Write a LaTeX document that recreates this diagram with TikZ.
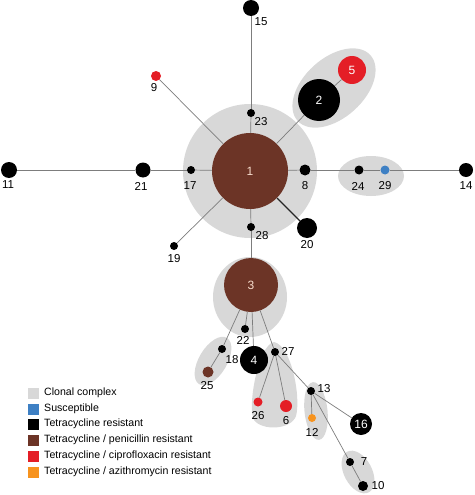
\documentclass[tikz,border=0pt]{standalone}
\usepackage{fontspec}
\setmainfont{Liberation Sans}
\usetikzlibrary{backgrounds}
\definecolor{cc}{RGB}{216,216,216}
\definecolor{brn}{RGB}{108,52,38}
\definecolor{rd}{RGB}{228,30,38}
\definecolor{bl}{RGB}{62,128,196}
\definecolor{org}{RGB}{247,147,30}
\definecolor{pk}{RGB}{246,220,205}
\definecolor{ln}{RGB}{125,125,125}
\pgfdeclarelayer{blobs}
\pgfdeclarelayer{edges}
\pgfsetlayers{blobs,edges,main}
\tikzset{
  nd/.style={circle, inner sep=0pt, minimum size=#1, fill=black, text=white, font=\fontsize{12}{12}\selectfont},
  lbl/.style={inner sep=0pt, font=\fontsize{11.5}{11.5}\selectfont},
  edge/.style={draw=ln, line width=0.7pt},
  dark/.style={draw=black!85, line width=1.1pt},
  blob/.style={fill=cc},
  key/.style={minimum size=11pt, inner sep=0pt},
  keytxt/.style={anchor=west, inner sep=0pt, font=\fontsize{10.6}{10.6}\selectfont}
}
\begin{document}
\begin{tikzpicture}[x=1pt,y=1pt]
\useasboundingbox (0,0) rectangle (474,-495);
% blobs
\begin{pgfonlayer}{blobs}
\fill[blob] (250,-171) circle (67);
\fill[blob, rotate around={42:(334,-88)}] (334,-88) ellipse (49 and 30);
\fill[blob] (371,-176) ellipse (33 and 20);
\fill[blob] (250,-297) ellipse (37 and 40);
\fill[blob, rotate around={59:(213,-361)}] (213,-361) ellipse (27 and 14);
\fill[blob] (274,-342) .. controls (292,-346) and (301,-398) .. (296,-416)
  .. controls (291,-430) and (262,-431) .. (254,-420)
  .. controls (247,-408) and (258,-345) .. (274,-342) -- cycle;
\fill[blob, rotate around={6:(316,-411)}] (316,-411) ellipse (11.5 and 29);
\fill[blob, rotate around={-62:(358,-472)}] (358,-472) ellipse (23 and 14);
\end{pgfonlayer}
% nodes
\node[nd=76, fill=brn, text=pk] (n1) at (250,-171) {1};
\node[nd=42] (n2) at (319,-100) {2};
\node[nd=28, fill=rd] (n5) at (352,-70) {5};
\node[nd=54, fill=brn, text=pk] (n3) at (251,-285) {3};
\node[nd=28] (n4) at (254,-360) {4};
\node[nd=22] (n16) at (361,-424) {16};
\node[nd=16] (n15) at (251,-8) {};
\node[nd=8] (n23) at (251,-113) {};
\node[nd=10, fill=rd] (n9) at (156,-76) {};
\node[nd=16] (n11) at (9,-170) {};
\node[nd=15] (n21) at (143,-170) {};
\node[nd=8] (n17) at (191,-170) {};
\node[nd=11] (n8) at (305,-170) {};
\node[nd=9] (n24) at (359,-170) {};
\node[nd=9, fill=bl] (n29) at (385,-170) {};
\node[nd=14] (n14) at (466,-170) {};
\node[nd=20] (n20) at (307,-228) {};
\node[nd=8] (n28) at (251,-227) {};
\node[nd=8] (n19) at (174,-246) {};
\node[nd=8] (n22) at (245,-329) {};
\node[nd=8] (n18) at (222,-349) {};
\node[nd=11, fill=brn] (n25) at (208,-372) {};
\node[nd=8] (n27) at (275,-352) {};
\node[nd=9, fill=rd] (n26) at (258,-402) {};
\node[nd=12, fill=rd] (n6) at (286,-406) {};
\node[nd=8] (n13) at (311,-391) {};
\node[nd=8, fill=org] (n12) at (312,-418) {};
\node[nd=8] (n7) at (350,-462) {};
\node[nd=10] (n10) at (363,-486) {};
% labels
\node[lbl] (t15) at (261,-22) {15};
\node[lbl] (t23) at (261,-122) {23};
\node[lbl] (t9) at (154,-88) {9};
\node[lbl] (t11) at (8,-185) {11};
\node[lbl] (t21) at (141,-186) {21};
\node[lbl] (t17) at (190,-186) {17};
\node[lbl] (t8) at (305,-186) {8};
\node[lbl] (t24) at (358,-186) {24};
\node[lbl] (t29) at (385,-186) {29};
\node[lbl] (t14) at (466,-186) {14};
\node[lbl] (t20) at (307,-245) {20};
\node[lbl] (t28) at (262,-236) {28};
\node[lbl] (t19) at (174,-259) {19};
\node[lbl] (t22) at (243,-340) {22};
\node[lbl] (t18) at (232,-360) {18};
\node[lbl] (t25) at (207,-386) {25};
\node[lbl] (t27) at (288,-351) {27};
\node[lbl] (t26) at (258,-416) {26};
\node[lbl] (t6) at (286,-421) {6};
\node[lbl] (t13) at (324,-389) {13};
\node[lbl] (t12) at (312,-432) {12};
\node[lbl] (t7) at (364,-462) {7};
\node[lbl] (t10) at (378,-486) {10};
% edges
\begin{pgfonlayer}{edges}
\draw[edge] (n15) -- (n23);
\draw[edge] (n23) -- (n1);
\draw[edge] (n9) -- (n1);
\draw[edge] (n1) -- (n2);
\draw[edge] (n2) -- (n5);
\draw[edge] (n11) -- (n21);
\draw[edge] (n21) -- (n17);
\draw[edge] (n17) -- (n1);
\draw[edge] (n1) -- (n8);
\draw[edge] (n8) -- (n24);
\draw[edge] (n24) -- (n29);
\draw[edge] (n29) -- (n14);
\draw[dark] (n1) -- (n20);
\draw[edge] (n1) -- (n19);
\draw[edge] (n1) -- (n28);
\draw[edge] (n28) -- (n3);
\draw[edge] (n3) -- (n22);
\draw[edge] (n3) -- (n18);
\draw[edge] (n18) -- (n25);
\draw[edge] (n3) -- (n4);
\draw[edge] (n3) -- (n27);
\draw[edge] (n27) -- (n26);
\draw[edge] (n27) -- (n6);
\draw[edge] (n27) -- (n13);
\draw[edge] (n13) -- (n12);
\draw[edge] (n13) -- (n16);
\draw[edge] (n13) -- (n7);
\draw[edge] (n7) -- (n10);
\end{pgfonlayer}
% legend
\node[key, fill=cc] (k1) at (33,-393) {};
\node[key, fill=bl] (k2) at (33,-409) {};
\node[key, fill=black] (k3) at (33,-424) {};
\node[key, fill=brn] (k4) at (33,-440) {};
\node[key, fill=rd] (k5) at (33,-456) {};
\node[key, fill=org] (k6) at (33,-472) {};
\node[keytxt] (x1) at (44,-393) {Clonal complex};
\node[keytxt] (x2) at (44,-409) {Susceptible};
\node[keytxt] (x3) at (44,-424) {Tetracycline resistant};
\node[keytxt] (x4) at (44,-440) {Tetracycline / penicillin resistant};
\node[keytxt] (x5) at (44,-456) {Tetracycline / ciprofloxacin resistant};
\node[keytxt] (x6) at (44,-472) {Tetracycline / azithromycin resistant};
\end{tikzpicture}
\end{document}
